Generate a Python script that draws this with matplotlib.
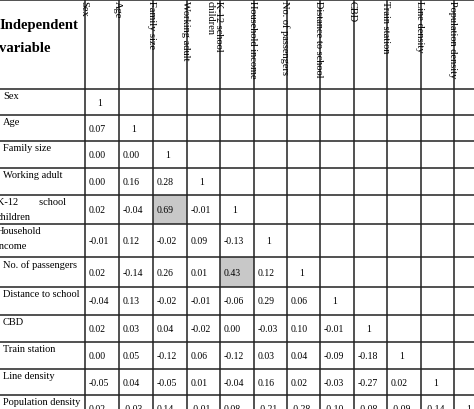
import matplotlib
matplotlib.use("Agg")
import matplotlib.pyplot as plt
from matplotlib.patches import Rectangle

variables = ["Sex", "Age", "Family size", "Working adult", "K-12 school\nchildren",
             "Household income", "No. of passengers", "Distance to school", "CBD",
             "Train station", "Line density", "Population density"]
row_labels = ["Sex", "Age", "Family size", "Working adult", "K-12        school\nchildren",
              "Household\nincome", "No. of passengers", "Distance to school", "CBD",
              "Train station", "Line density", "Population density"]
values = [
    [1],
    [0.07, 1],
    [0.00, 0.00, 1],
    [0.00, 0.16, 0.28, 1],
    [0.02, -0.04, 0.69, -0.01, 1],
    [-0.01, 0.12, -0.02, 0.09, -0.13, 1],
    [0.02, -0.14, 0.26, 0.01, 0.43, 0.12, 1],
    [-0.04, 0.13, -0.02, -0.01, -0.06, 0.29, 0.06, 1],
    [0.02, 0.03, 0.04, -0.02, 0.00, -0.03, 0.10, -0.01, 1],
    [0.00, 0.05, -0.12, 0.06, -0.12, 0.03, 0.04, -0.09, -0.18, 1],
    [-0.05, 0.04, -0.05, 0.01, -0.04, 0.16, 0.02, -0.03, -0.27, 0.02, 1],
    [0.02, -0.03, 0.14, -0.01, 0.08, -0.21, -0.28, -0.10, -0.08, -0.09, -0.14, 1],
]
shaded = [(4, 2), (6, 4)]

W, H = 474, 409
fig = plt.figure(figsize=(W / 100, H / 100), dpi=100)
ax = fig.add_axes([0, 0, 1, 1])
ax.set_xlim(0, W)
ax.set_ylim(H, 0)
ax.axis("off")
font = "Liberation Serif"

col_edges = [85, 119, 153, 187, 220, 254, 287, 320, 354, 387, 421, 454, 488]
row_edges = [89, 115, 141, 168, 195, 224, 257, 287, 315, 342, 369, 395, 422]

for (r, c) in shaded:
    ax.add_patch(Rectangle((col_edges[c], row_edges[r]), col_edges[c + 1] - col_edges[c],
                           row_edges[r + 1] - row_edges[r], color="#c8c8c8", lw=0))

for x in col_edges:
    ax.plot([x, x], [0, H], color="#222", lw=1.1)
ax.plot([-5, W + 5], [0, 0], color="#222", lw=1.1)
for y in row_edges:
    ax.plot([-5, W + 5], [y, y], color="#222", lw=1.1)

ax.text(-1, 26, "Independent", fontsize=10.5, fontweight="bold", family=font, va="center")
ax.text(-1, 48, "variable", fontsize=10.5, fontweight="bold", family=font, va="center")

for j, name in enumerate(variables):
    ax.text(col_edges[j] + 3, 1, name, rotation=-90, fontsize=7.5, family=font,
            va="top", ha="left", rotation_mode="anchor", linespacing=0.9)

for i, lab in enumerate(row_labels):
    ax.text(-3 if "\n" in lab else 3, row_edges[i] + 3, lab, fontsize=7.5, family=font,
            va="top", ha="left", linespacing=1.8)
    for j, v in enumerate(values[i]):
        s = "1" if v == 1 else f"{v:.2f}"
        cx = col_edges[j] + (12 if v == 1 else 4)
        ax.text(cx, (row_edges[i] + row_edges[i + 1]) / 2 + 1, s, fontsize=7,
                family=font, va="center", ha="left")

fig.savefig("out.png", dpi=100)
